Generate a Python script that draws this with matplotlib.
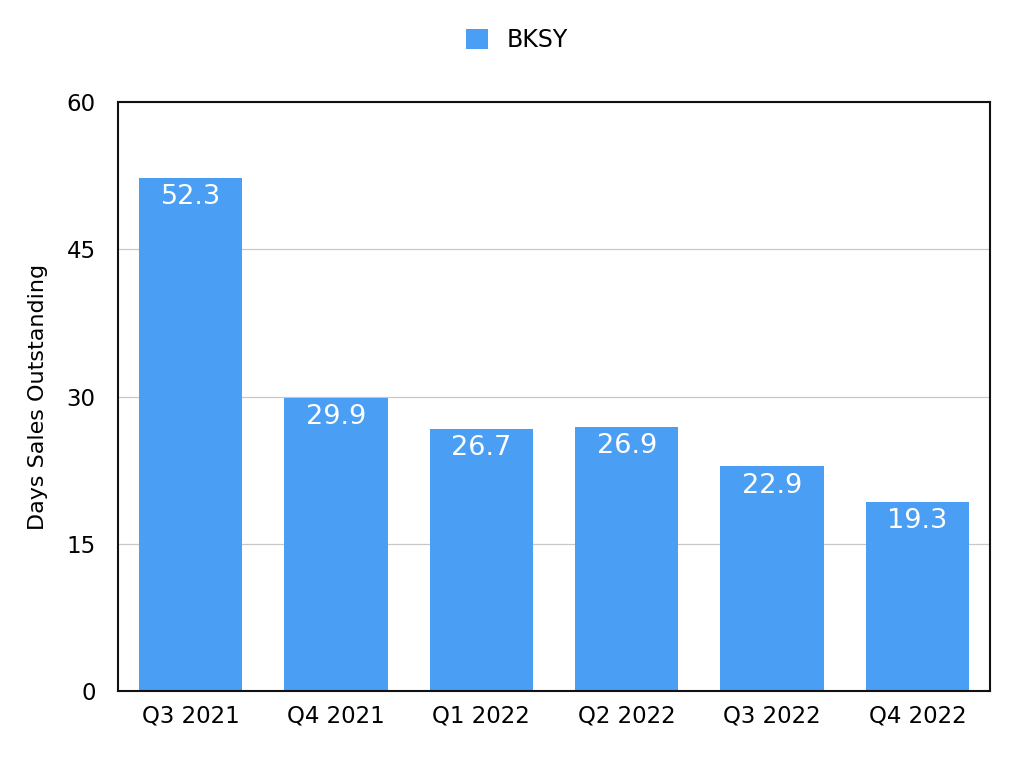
import matplotlib.pyplot as plt
import numpy as np

quarters = ['Q3 2021', 'Q4 2021', 'Q1 2022', 'Q2 2022', 'Q3 2022', 'Q4 2022']
dso = [52.3, 29.9, 26.7, 26.9, 22.9, 19.3]
yticks = [0, 15, 30, 45, 60]

bar_color = '#4a9ff5'

fig = plt.figure(figsize=(10.24, 7.74), dpi=100)
ax = fig.add_axes([0.1152, 0.1072, 0.8516, 0.761])

x = np.arange(len(quarters))
bars = ax.bar(x, dso, width=0.71, color=bar_color, label='BKSY', zorder=2)

for b, v in zip(bars, dso):
    ax.annotate(f'{v}', (b.get_x() + b.get_width() / 2, v),
                xytext=(0, -14), textcoords='offset points',
                ha='center', va='center', color='white', fontsize=19.5, zorder=3)

ax.set_xlim(-0.5, len(quarters) - 0.5)
ax.set_ylim(0, 60)
ax.set_yticks(yticks)
ax.set_xticks(x)
ax.set_xticklabels(quarters)
ax.tick_params(axis='both', length=0, labelsize=16.5, pad=10)
ax.tick_params(axis='y', pad=16)
ax.grid(axis='y', color='#c8c8c8', linewidth=0.9, zorder=1)
for s in ax.spines.values():
    s.set_linewidth(1.5)
    s.set_color('#111111')
ax.set_ylabel('Days Sales Outstanding', fontsize=16, labelpad=13)

fig.legend(handles=[bars], labels=['BKSY'], loc='center', bbox_to_anchor=(0.505, 0.948),
           frameon=False, fontsize=17, handlelength=0.9, handleheight=0.9,
           handletextpad=0.8)

fig.savefig('out.png', dpi=100)
